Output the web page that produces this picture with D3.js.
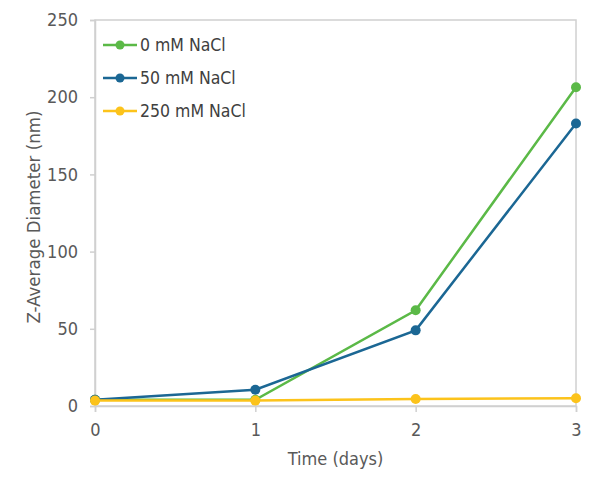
<!DOCTYPE html>
<html>
<head>
<meta charset="utf-8">
<script src="https://cdn.jsdelivr.net/npm/d3@7"></script>
<style>
  body { margin: 0; background: #fff; }
  text { font-family: "DejaVu Sans Condensed", "DejaVu Sans", sans-serif; fill: #595959; }
</style>
</head>
<body>
<div id="chart"></div>
<script>
// data
const days = [0, 1, 2, 3];
const nacl0 = [4, 4, 62, 206.5];
const nacl50 = [4, 10.5, 49, 183];
const nacl250 = [3.5, 3.5, 4.5, 5];
const seriesNames = ['0 mM NaCl', '50 mM NaCl', '250 mM NaCl'];
const yTicks = [0, 50, 100, 150, 200, 250];

const width = 600,
  height = 491,
  margin = { top: 20, right: 24, bottom: 85, left: 95 };

const colors = ['#5bb947', '#1b6794', '#fcc31b'];
const series = [nacl0, nacl50, nacl250].map((vals, i) => ({
  name: seriesNames[i],
  color: colors[i],
  values: vals.map((v, j) => ({ x: days[j], y: v }))
}));

const x = d3.scaleLinear().domain([0, 3]).range([margin.left, width - margin.right]);
const y = d3.scaleLinear().domain([0, 250]).range([height - margin.bottom, margin.top]);

const svg = d3.select('#chart').append('svg')
  .attr('width', width)
  .attr('height', height);

// frame
svg.append('rect')
  .attr('x', x(0)).attr('y', y(250))
  .attr('width', x(3) - x(0)).attr('height', y(0) - y(250))
  .attr('fill', 'none').attr('stroke', '#d0d0d0').attr('stroke-width', 1.5);

// y axis
svg.append('g')
  .attr('transform', `translate(${margin.left},0)`)
  .call(d3.axisLeft(y).tickValues(yTicks).tickSize(5).tickPadding(12))
  .call((g) => g.select('.domain').attr('stroke', '#d0d0d0').attr('stroke-width', 1.5))
  .call((g) => g.selectAll('.tick line').attr('stroke', '#d0d0d0').attr('stroke-width', 1.5))
  .call((g) => g.selectAll('.tick text').style('font-size', '18px').attr('fill', '#595959'));

// x axis
svg.append('g')
  .attr('transform', `translate(0,${y(0)})`)
  .call(d3.axisBottom(x).tickValues(days).tickFormat(d3.format('d')).tickSize(6).tickPadding(11))
  .call((g) => g.select('.domain').attr('stroke', '#d0d0d0').attr('stroke-width', 1.5))
  .call((g) => g.selectAll('.tick line').attr('stroke', '#d0d0d0').attr('stroke-width', 1.5))
  .call((g) => g.selectAll('.tick text').style('font-size', '18px').attr('fill', '#595959'));

// axis titles
svg.append('text')
  .attr('x', (x(0) + x(3)) / 2).attr('y', 465)
  .attr('text-anchor', 'middle')
  .style('font-size', '18px')
  .text('Time (days)');

svg.append('text')
  .attr('transform', `translate(40,217) rotate(-90)`)
  .attr('text-anchor', 'middle')
  .style('font-size', '18.5px')
  .text('Z-Average Diameter (nm)');

// lines
const line = d3.line().x((d) => x(d.x)).y((d) => y(d.y));

const sg = svg.append('g').selectAll('g').data(series).join('g');
sg.append('path')
  .attr('d', (d) => line(d.values))
  .attr('fill', 'none')
  .attr('stroke', (d) => d.color)
  .attr('stroke-width', 2.5);
sg.selectAll('circle')
  .data((d) => d.values.map((v) => ({ ...v, color: d.color })))
  .join('circle')
  .attr('cx', (d) => x(d.x))
  .attr('cy', (d) => y(d.y))
  .attr('r', 5)
  .attr('fill', (d) => d.color);

// legend
const legend = svg.append('g').attr('transform', 'translate(103,45)');
const li = legend.selectAll('g').data(series).join('g')
  .attr('transform', (d, i) => `translate(0,${i * 33})`);
li.append('line')
  .attr('x1', 0).attr('x2', 34)
  .attr('stroke', (d) => d.color).attr('stroke-width', 2.5);
li.append('circle').attr('cx', 17).attr('r', 4.5).attr('fill', (d) => d.color);
li.append('text')
  .attr('x', 37).attr('dy', '0.35em')
  .style('font-size', '17.5px')
  .style('fill', '#404040')
  .text((d) => d.name);
</script>
</body>
</html>
